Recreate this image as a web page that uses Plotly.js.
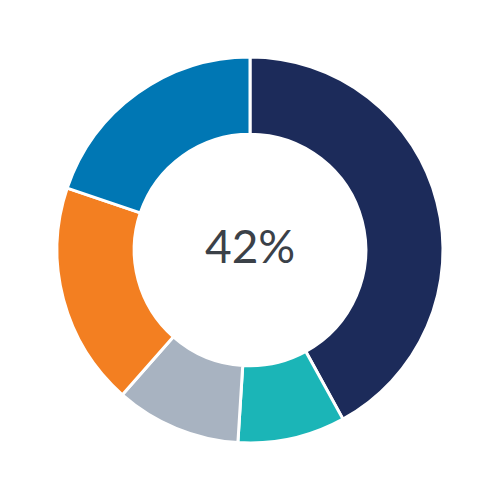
<!DOCTYPE html>
<html>
<head>
<meta charset="utf-8">
<script src="https://cdn.plot.ly/plotly-3.0.1.min.js"></script>
<style>
  html, body { margin: 0; padding: 0; background: #fff; }
  #chart { width: 500px; height: 500px; }
</style>
</head>
<body>
<div id="chart"></div>
<script>
const labels = ["A", "B", "C", "D", "E"];
const values = [42, 9, 10.5, 18.7, 19.8];
const colors = ["#1c2b5a", "#1bb5b7", "#a8b3c1", "#f37f21", "#0077b4"];
const centerText = "42%";

const trace = {
    type: "pie",
    labels: labels,
    values: values,
    hole: 0.6,
    sort: false,
    direction: "clockwise",
    rotation: 0,
    textinfo: "none",
    hoverinfo: "none",
    marker: { colors: colors, line: { color: "#ffffff", width: 3 } },
};

const layout = {
    width: 500,
    height: 500,
    margin: { l: 57, r: 57, t: 57, b: 57 },
    showlegend: false,
    paper_bgcolor: "#ffffff",
    annotations: [{
        text: centerText,
        x: 0.5, y: 0.5, xref: "paper", yref: "paper",
        yshift: 5,
        showarrow: false,
        font: { family: "Lato", size: 46, color: "#3b4148" },
    }],
};

Plotly.newPlot("chart", [trace], layout, { displayModeBar: false, staticPlot: true });
</script>
</body>
</html>
